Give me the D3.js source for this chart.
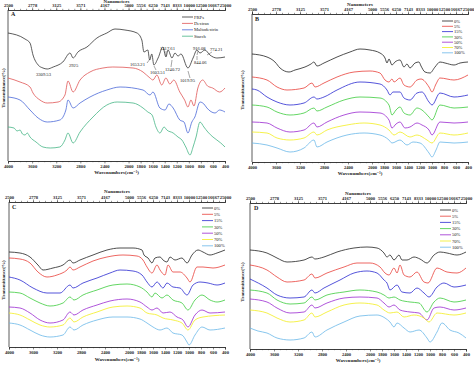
<!DOCTYPE html>
<html><head><meta charset="utf-8">
<script src="https://cdn.jsdelivr.net/npm/d3@7"></script>
<style>body{margin:0;background:#fff}svg{display:block}text{font-family:"Liberation Serif","DejaVu Serif",serif}</style>
</head><body><svg id="c" width="474" height="374"></svg>
<script>
// ---------- DATA ----------
const wavenumberTicks = [4000,3600,3200,2800,2400,2000,1800,1600,1400,1200,1000,800,600,400];
const nanometerLabels = ["2500","2778","3125","3571","4167","5000","5556","6250","7143","8333","10000","12500","16667","25000"];
const minorTicks = d3.range(400, 4001, 100);
const legendA = ["FRPs","Dextran","Maltodextrin","Starch"];
const legendPct = ["0%","5%","15%","30%","50%","70%","100%"];

// Panel A  [wavenumber, transmittance (a.u.)]
const aFRPs = [[4000,128],[3718,122],[3635,118],[3585,106],[3500,96],[3420,93],[3350,92],[3250,94],[3090,99],[2970,108],[2920,103],[2840,109],[2690,114],[2525,123],[2360,128],[2225,132],[2060,131],[1860,128],[1780,121],[1745,109],[1680,111],[1650,101],[1615,107],[1580,96],[1510,103],[1430,114],[1380,104],[1345,111],[1280,103],[1230,108],[1180,105],[1130,107],[1015,93],[930,103],[865,111],[815,108],[733,111],[650,106],[535,103],[400,104]];
const aDextran = [[4000,83],[3800,79],[3635,74],[3585,68],[3470,61],[3350,58],[3170,59],[3055,66],[3005,80],[2920,69],[2805,81],[2640,89],[2425,93],[2260,94],[1925,93],[1760,89],[1645,83],[1595,81],[1530,86],[1450,76],[1380,83],[1315,77],[1250,81],[1150,69],[1070,61],[1015,54],[965,61],[915,55],[850,73],[770,81],[690,75],[605,73],[490,69],[400,73]];
const aMalto = [[4000,64],[3800,61],[3635,51],[3500,43],[3350,39],[3140,41],[3040,51],[3005,61],[2920,53],[2805,58],[2640,64],[2360,71],[2140,74],[1760,71],[1645,66],[1595,69],[1480,53],[1395,51],[1330,57],[1260,53],[1150,41],[1080,39],[1015,28],[950,39],[900,44],[815,59],[750,57],[700,53],[565,48],[490,51],[400,49]];
const aStarch = [[4000,34],[3900,33],[3850,30],[3800,31],[3760,27],[3718,26],[3680,28],[3635,24],[3535,19],[3420,14],[3300,13],[3140,14],[3055,21],[3005,28],[2920,18],[2805,29],[2590,44],[2360,56],[2190,59],[1925,58],[1760,53],[1680,49],[1610,46],[1545,34],[1480,28],[1410,34],[1365,31],[1260,28],[1180,24],[1115,21],[1050,14],[980,6],[930,14],[880,24],[815,39],[750,34],[685,29],[600,24],[535,21],[470,18],[400,14]];

// Panel B
const b0 = [[4000,108],[3750,105],[3617,100],[3533,94],[3383,90],[3283,92],[3117,95],[3017,98],[2967,100],[2917,96],[2800,99],[2583,105],[2367,110],[2200,113],[2033,112],[1867,109],[1783,104],[1750,99],[1717,103],[1667,97],[1617,100],[1533,102],[1467,95],[1417,98],[1367,94],[1283,99],[1217,100],[1183,96],[1117,90],[1033,89],[950,95],[867,100],[783,99],[633,97],[533,99],[400,100]];
const b5 = [[4000,85],[3750,82],[3583,75],[3417,72],[3133,74],[3000,79],[2950,75],[2800,79],[2583,85],[2300,90],[2033,91],[1867,89],[1783,82],[1717,80],[1667,83],[1633,80],[1533,84],[1467,77],[1367,75],[1250,82],[1183,83],[1050,75],[1000,70],[933,78],[867,84],[633,82],[400,87]];
const b15 = [[4000,73],[3917,72],[3750,65],[3583,60],[3367,57],[3133,59],[2967,65],[2917,63],[2800,65],[2583,72],[2200,80],[1867,78],[1750,72],[1700,67],[1650,70],[1533,70],[1467,64],[1367,62],[1250,69],[1167,70],[1050,60],[1000,57],[867,69],[633,65],[400,67]];
const b30 = [[4000,57],[3750,55],[3583,50],[3367,47],[3133,49],[2967,54],[2917,51],[2750,55],[2467,62],[2200,65],[1867,64],[1717,57],[1667,47],[1600,52],[1533,55],[1467,49],[1367,47],[1250,54],[1167,52],[1050,45],[1000,42],[867,57],[633,54],[400,55]];
const b50 = [[4000,40],[3750,39],[3583,34],[3367,30],[3133,32],[2967,39],[2917,35],[2750,40],[2467,47],[2200,50],[1867,49],[1717,42],[1667,34],[1600,38],[1533,40],[1450,34],[1367,35],[1250,39],[1167,37],[1050,32],[1000,27],[867,40],[633,39],[400,40]];
const b70 = [[4000,30],[3750,29],[3583,24],[3367,22],[3133,24],[2967,30],[2917,27],[2750,32],[2417,37],[2133,39],[1867,37],[1717,32],[1633,27],[1533,30],[1367,25],[1250,27],[1083,22],[1000,19],[867,29],[633,27],[400,29]];
const b100 = [[4000,19],[3750,17],[3583,14],[3367,10],[3133,14],[2967,22],[2917,15],[2750,20],[2417,27],[2133,29],[1867,27],[1717,22],[1667,19],[1533,22],[1417,17],[1317,20],[1200,19],[1050,9],[1000,5],[933,12],[867,20],[633,19],[400,20]];

// Panel C
const c0 = [[4000,95],[3817,94],[3650,90],[3517,82],[3433,77],[3267,79],[3100,82],[2983,87],[2933,84],[2817,87],[2600,92],[2367,97],[2150,99],[1933,99],[1783,97],[1750,92],[1683,89],[1617,84],[1567,89],[1483,90],[1433,87],[1367,85],[1317,90],[1233,87],[1117,89],[1033,84],[950,92],[850,97],[767,95],[650,92],[533,94],[400,97]];
const c5 = [[4000,89],[3817,88],[3650,84],[3517,75],[3367,70],[3200,72],[3033,77],[2983,80],[2933,77],[2817,80],[2600,86],[2367,90],[2100,92],[1867,91],[1767,87],[1700,80],[1617,74],[1533,82],[1483,77],[1400,72],[1350,82],[1267,75],[1150,75],[1033,69],[983,65],[867,80],[767,80],[600,79],[400,82]];
const c15 = [[4000,70],[3817,67],[3600,59],[3367,54],[3150,54],[2983,62],[2933,59],[2767,64],[2533,69],[2317,74],[2150,77],[1933,76],[1783,72],[1700,65],[1617,60],[1533,65],[1433,59],[1367,64],[1267,60],[1150,59],[1033,52],[933,62],[817,65],[683,64],[533,62],[400,64]];
const c30 = [[4000,55],[3817,54],[3650,49],[3483,44],[3317,41],[3100,44],[2983,50],[2917,47],[2767,52],[2533,57],[2267,62],[2033,63],[1817,60],[1700,55],[1617,50],[1567,54],[1450,49],[1367,52],[1267,47],[1117,44],[1017,37],[900,47],[783,52],[650,47],[533,45],[400,47]];
const c50 = [[4000,40],[3817,39],[3650,34],[3483,27],[3317,24],[3100,27],[2983,35],[2917,32],[2767,37],[2533,42],[2317,46],[2033,48],[1817,45],[1700,40],[1617,37],[1533,39],[1433,34],[1317,35],[1200,30],[1100,27],[1017,20],[900,32],[783,37],[650,34],[400,35]];
const c70 = [[4000,34],[3817,32],[3650,27],[3483,22],[3317,20],[3100,22],[2983,29],[2917,25],[2767,30],[2533,35],[2267,40],[2033,41],[1817,39],[1700,34],[1533,32],[1433,29],[1267,27],[1117,24],[1017,17],[900,27],[767,30],[400,32]];
const c100 = [[4000,24],[3817,22],[3650,17],[3483,12],[3317,10],[3100,12],[2983,20],[2917,17],[2767,22],[2533,27],[2267,30],[2033,30],[1817,28],[1700,24],[1600,20],[1483,17],[1367,19],[1267,14],[1117,12],[1033,5],[1000,2],[900,12],[783,20],[650,17],[400,19]];

// Panel D
const d0 = [[4000,99],[3717,96],[3550,91],[3383,87],[3100,89],[2967,92],[2917,90],[2767,92],[2550,97],[2267,101],[2050,102],[1883,101],[1767,96],[1717,92],[1667,94],[1600,89],[1517,94],[1467,89],[1383,89],[1267,92],[1167,90],[1050,86],[933,94],[833,97],[717,96],[550,94],[400,97]];
const d5 = [[4000,84],[3717,79],[3550,72],[3383,67],[3100,69],[2967,75],[2917,71],[2717,76],[2433,82],[2217,86],[2000,86],[1833,82],[1750,76],[1683,74],[1600,81],[1550,76],[1500,84],[1433,74],[1333,72],[1217,77],[1100,67],[1033,66],[883,81],[717,77],[550,76],[400,81]];
const d15 = [[4000,70],[3717,61],[3550,54],[3333,51],[3100,52],[2967,59],[2917,56],[2767,61],[2500,69],[2267,76],[2050,78],[1883,76],[1767,69],[1717,66],[1667,59],[1550,64],[1467,57],[1333,56],[1217,61],[1100,56],[1017,52],[883,62],[767,66],[600,62],[400,64]];
const d30 = [[4000,59],[3717,56],[3550,49],[3333,45],[3100,46],[2967,52],[2917,49],[2717,54],[2433,57],[2167,59],[1883,57],[1767,54],[1683,51],[1600,52],[1500,49],[1333,47],[1183,46],[1050,37],[933,47],[833,51],[600,47],[400,49]];
const d50 = [[4000,50],[3717,47],[3550,41],[3333,36],[3100,37],[2967,44],[2917,41],[2717,46],[2433,51],[2167,52],[1883,51],[1767,46],[1683,42],[1600,44],[1500,39],[1333,37],[1183,36],[1050,29],[933,41],[833,42],[600,39],[400,41]];
const d70 = [[4000,39],[3717,36],[3550,31],[3333,27],[3100,29],[2967,36],[2917,32],[2717,37],[2433,44],[2167,46],[1883,44],[1767,39],[1667,36],[1550,37],[1433,32],[1267,34],[1100,31],[1017,27],[883,36],[600,34],[400,36]];
const d100 = [[4000,21],[3867,18],[3717,16],[3550,11],[3333,9],[3100,11],[2967,17],[2917,12],[2717,19],[2433,27],[2167,33],[1883,34],[1750,31],[1667,27],[1600,22],[1550,26],[1433,21],[1333,17],[1183,19],[1050,11],[1000,7],[883,17],[800,26],[667,19],[517,16],[400,11]];

// peak annotations for panel A
const peakLabels = ["3309.53","2925","1653.21","1603.51","1417.61","1240.72","1019.95","916.08","844.06","774.21"];

// ---------- STYLE / LAYOUT ----------
const pctColors = ["#222222","#e8403a","#2a2ad0","#3ccc3c","#9a2ad0","#f2ee20","#6ab8e8"];
const aColors = ["#333333","#e05555","#4a68d8","#45b585"];

const panels = [
  {id:"A", l:8, r:225, t:10, b:161, nmY:3, topLblY:6.5, botLblY:167, titleY:174, yTitle:[3,88], lbl:[11,16],
   series:[aFRPs,aDextran,aMalto,aStarch], colors:aColors, names:legendA, leg:{x:182,y:17,dy:6.4}},
  {id:"B", l:252, r:468, t:14, b:162, nmY:6, topLblY:11.5, botLblY:168, titleY:175, yTitle:[242,90], lbl:[255,21],
   series:[b0,b5,b15,b30,b50,b70,b100], colors:pctColors, names:legendPct, leg:{x:442,y:21,dy:5.3}},
  {id:"C", l:9, r:225, t:202, b:347, nmY:193, topLblY:198.5, botLblY:353, titleY:361, yTitle:[3,280], lbl:[12,209],
   series:[c0,c5,c15,c30,c50,c70,c100], colors:pctColors, names:legendPct, leg:{x:202,y:208,dy:6.3}},
  {id:"D", l:250, r:466, t:203, b:349, nmY:195, topLblY:200.5, botLblY:354, titleY:362, yTitle:[242,282], lbl:[254,210],
   series:[d0,d5,d15,d30,d50,d70,d100], colors:pctColors, names:legendPct, leg:{x:440,y:210,dy:6.2}}
];

const svg = d3.select("#c");
svg.append("rect").attr("width",474).attr("height",374).attr("fill","#fff");

panels.forEach(p=>{
  const g = svg.append("g");
  const x = d3.scaleLinear().domain([4000,400]).range([p.l,p.r]);
  const y = d3.scaleLinear().domain([0,p.b-p.t]).range([p.b,p.t]);

  // bottom axis
  const bot = g.append("g").attr("transform",`translate(0,${p.b})`)
    .call(d3.axisBottom(x).tickValues(wavenumberTicks).tickSize(2.5).tickPadding(1).tickFormat(d3.format("d")));
  bot.append("g").call(d3.axisBottom(x).tickValues(minorTicks).tickSize(1.2).tickFormat(""));
  // top axis (nanometers)
  const top = g.append("g").attr("transform",`translate(0,${p.t})`)
    .call(d3.axisTop(x).tickValues(wavenumberTicks).tickSize(2.5).tickPadding(1).tickFormat((d,i)=>nanometerLabels[i]));
  top.append("g").call(d3.axisTop(x).tickValues(minorTicks).tickSize(1.2).tickFormat(""));
  [bot,top].forEach(ax=>{
    ax.selectAll("path.domain").attr("stroke","#333").attr("stroke-width",0.8);
    ax.selectAll(".tick line").attr("stroke","#333").attr("stroke-width",0.5);
    ax.selectAll("text").attr("font-size",4.6).attr("font-weight","bold").attr("fill","#222");
  });
  // left axis line
  g.append("line").attr("x1",p.l).attr("x2",p.l).attr("y1",p.t).attr("y2",p.b).attr("stroke","#333").attr("stroke-width",0.8);

  // titles
  const cx = (p.l+p.r)/2;
  g.append("text").attr("x",cx).attr("y",p.nmY).attr("text-anchor","middle").attr("font-size",5).attr("font-weight","bold").attr("fill","#222").text("Nanometers");
  g.append("text").attr("x",cx).attr("y",p.titleY).attr("text-anchor","middle").attr("font-size",5).attr("font-weight","bold").attr("fill","#222").text("Wavenumbers(cm⁻¹)");
  g.append("text").attr("transform",`translate(${p.yTitle[0]+1.5},${p.yTitle[1]}) rotate(-90)`).attr("text-anchor","middle").attr("font-size",5).attr("font-weight","bold").attr("fill","#222").text("Transmittance(%)");
  g.append("text").attr("x",p.lbl[0]).attr("y",p.lbl[1]).attr("font-size",6).attr("font-weight","bold").attr("fill","#222").text(p.id);

  // curves
  const line = d3.line().x(d=>x(d[0])).y(d=>y(d[1])).curve(d3.curveMonotoneX);
  p.series.forEach((s,i)=>{
    g.append("path").datum(s).attr("d",line).attr("fill","none").attr("stroke",p.colors[i]).attr("stroke-width",0.8);
  });

  // legend
  p.names.forEach((n,i)=>{
    const yy = p.leg.y + i*p.leg.dy;
    g.append("line").attr("x1",p.leg.x).attr("x2",p.leg.x+11).attr("y1",yy).attr("y2",yy).attr("stroke",p.colors[i]).attr("stroke-width",0.8);
    g.append("text").attr("x",p.leg.x+12).attr("y",yy+1.6).attr("font-size",4.6).attr("fill","#222").text(n);
  });

  if(p.id==="A"){
    const pos = [[36,76],[69,67],[130,66],[150,74],[160,50],[165,71],[180,82],[193,50],[194,64],[210,51]];
    peakLabels.forEach((t,i)=>{
      g.append("text").attr("x",pos[i][0]).attr("y",pos[i][1]).attr("font-size",4.6).attr("fill","#222").text(t);
    });
    const arrows = [[147,63,150,59],[156,70,154,66],[166,51,166,56],[171,67,172,60],[190,78,188,71],[198,51,197,55],[197,60,197,56],[212,52,207,55]];
    arrows.forEach(a=>g.append("line").attr("x1",a[0]).attr("y1",a[1]).attr("x2",a[2]).attr("y2",a[3]).attr("stroke","#222").attr("stroke-width",0.4));
  }
});
</script></body></html>
